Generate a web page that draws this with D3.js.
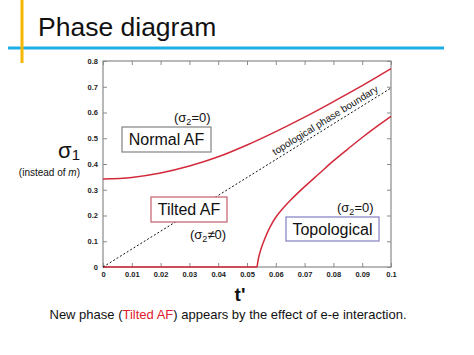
<!DOCTYPE html>
<html><head><meta charset="utf-8">
<script src="https://cdn.jsdelivr.net/npm/d3@7"></script>
<style>html,body{margin:0;padding:0;background:#fff;}svg{display:block;font-family:"Liberation Sans",Arial,Helvetica,sans-serif;}</style>
</head><body>
<script>
// ---- data ----
const xTicks = [0,0.01,0.02,0.03,0.04,0.05,0.06,0.07,0.08,0.09,0.1];
const xTickLabels = ["0","0.01","0.02","0.03","0.04","0.05","0.06","0.07","0.08","0.09","0.1"];
const yTicks = [0,0.1,0.2,0.3,0.4,0.5,0.6,0.7,0.8];
const yTickLabels = ["0","0.1","0.2","0.3","0.4","0.5","0.6","0.7","0.8"];
// Normal AF / Tilted AF boundary
const upperT = [0,0.01,0.02,0.03,0.04,0.05,0.06,0.07,0.08,0.09,0.1];
const upperS = [0.342,0.348,0.365,0.392,0.428,0.474,0.526,0.582,0.642,0.704,0.77];
// Tilted AF / Topological boundary
const lowerT = [0,0.0535,0.054,0.055,0.056,0.058,0.06,0.0625,0.065,0.07,0.075,0.08,0.085,0.09,0.095,0.1];
const lowerS = [0,0,0.035,0.075,0.105,0.155,0.193,0.228,0.258,0.312,0.362,0.412,0.458,0.503,0.545,0.585];
// topological phase boundary (dashed)
const dashT = [0,0.1];
const dashS = [0,0.695];

const W=474,H=355;
const svg=d3.select("body").append("svg").attr("width",W).attr("height",H);

// header decorations
svg.append("line").attr("x1",8).attr("x2",444).attr("y1",48).attr("y2",48).attr("stroke","#1eaee6").attr("stroke-width",3);
svg.append("line").attr("x1",22).attr("x2",22).attr("y1",0).attr("y2",63).attr("stroke","#f4b800").attr("stroke-width",3);
svg.append("text").attr("x",38).attr("y",36).attr("font-size",26.5).attr("fill","#111").text("Phase diagram");

const x=d3.scaleLinear().domain([0,0.1]).range([103,391]);
const y=d3.scaleLinear().domain([0,0.8]).range([267,61]);

const frame="#8a8a8a";
function styleAxis(g){
  g.selectAll(".domain").remove();
  g.selectAll(".tick line").attr("stroke",frame);
  g.selectAll("text").attr("font-size",7.5).attr("font-weight","bold").attr("fill","#222");
}
svg.append("g").attr("transform",`translate(0,${y(0)})`)
  .call(d3.axisBottom(x).tickValues(xTicks).tickFormat((d,i)=>xTickLabels[i]).tickSizeInner(-4).tickSizeOuter(0).tickPadding(5))
  .call(styleAxis);
svg.append("g").attr("transform",`translate(0,${y(0.8)})`)
  .call(d3.axisTop(x).tickValues(xTicks).tickFormat("").tickSizeInner(-4).tickSizeOuter(0))
  .call(styleAxis);
svg.append("g").attr("transform",`translate(${x(0)},0)`)
  .call(d3.axisLeft(y).tickValues(yTicks).tickFormat((d,i)=>yTickLabels[i]).tickSizeInner(-4).tickSizeOuter(0).tickPadding(5))
  .call(styleAxis);
svg.append("g").attr("transform",`translate(${x(0.1)},0)`)
  .call(d3.axisRight(y).tickValues(yTicks).tickFormat("").tickSizeInner(-4).tickSizeOuter(0))
  .call(styleAxis);
svg.append("rect").attr("x",x(0)).attr("y",y(0.8)).attr("width",x(0.1)-x(0)).attr("height",y(0)-y(0.8))
  .attr("fill","none").attr("stroke",frame).attr("stroke-width",1.2);

const red="#d22a3a";
const upperLine=d3.line().x(d=>x(d[0])).y(d=>y(d[1])).curve(d3.curveCatmullRom.alpha(0.5));
svg.append("path").attr("d",upperLine(upperT.map((t,i)=>[t,upperS[i]]))).attr("fill","none").attr("stroke",red).attr("stroke-width",1.5);
svg.append("path").attr("d",d3.line().x(d=>x(d[0])).y(d=>y(d[1])).curve(d3.curveMonotoneY)(lowerT.map((t,i)=>[t,lowerS[i]]).slice(1))).attr("fill","none").attr("stroke",red).attr("stroke-width",1.5);
svg.append("path").attr("d",d3.line().x(d=>x(d[0])).y(d=>y(d[1]))(lowerT.slice(0,2).map((t,i)=>[t,lowerS[i]]))).attr("fill","none").attr("stroke",red).attr("stroke-width",1.5);
svg.append("path").attr("d",d3.line().x(d=>x(d[0])).y(d=>y(d[1]))(dashT.map((t,i)=>[t,dashS[i]]))).attr("fill","none").attr("stroke","#111").attr("stroke-width",1).attr("stroke-dasharray","2,2");

// rotated label along dashed line
const ang=Math.atan2(y(0)-y(dashS[1]),x(0.1)-x(0))*180/Math.PI;
const tm=0.0785, px=x(tm), py=y(tm*dashS[1]/0.1);
const off=4;
const rad=ang*Math.PI/180;
svg.append("text").attr("font-size",10).attr("fill","#111").attr("text-anchor","middle")
  .attr("transform",`translate(${px-off*Math.sin(rad)},${py-off*Math.cos(rad)}) rotate(${-ang})`)
  .text("topological phase boundary");

// phase boxes
function box(x0,y0,w,h,stroke,label){
  svg.append("rect").attr("x",x0).attr("y",y0).attr("width",w).attr("height",h).attr("fill","#fff").attr("stroke",stroke).attr("stroke-width",1.3);
  svg.append("text").attr("x",x0+w/2).attr("y",y0+h/2+5.8).attr("text-anchor","middle").attr("font-size",16).attr("fill","#111").text(label);
}
box(122,127,89,25,"#8c8c8c","Normal AF");
box(151,197,76,25,"#c86a78","Tilted AF");
box(286,217,93,24,"#8c88c8","Topological");

function sigmaLabel(xs,ys,rel){
  const t=svg.append("text").attr("x",xs).attr("y",ys).attr("font-size",13).attr("fill","#111");
  t.append("tspan").text("(σ");
  t.append("tspan").attr("font-size",9).attr("dy",3).text("2");
  t.append("tspan").attr("dy",-3).text(rel+"0)");
}
sigmaLabel(174,122,"=");
sigmaLabel(190,239,"≠");
sigmaLabel(337,212,"=");

// y-axis label
const sl=svg.append("text").attr("x",80).attr("y",158).attr("text-anchor","end").attr("font-size",22).attr("fill","#111");
sl.append("tspan").text("σ");
sl.append("tspan").attr("font-size",15).attr("dy",2).text("1");
const ins=svg.append("text").attr("x",80).attr("y",176).attr("text-anchor","end").attr("font-size",10).attr("fill","#111");
ins.append("tspan").text("(instead of ");
ins.append("tspan").attr("font-style","italic").text("m");
ins.append("tspan").text(")");

// x-axis label
svg.append("text").attr("x",240).attr("y",301).attr("text-anchor","middle").attr("font-size",19).attr("font-weight","bold").attr("fill","#111").text("t'");

// caption
const cap=svg.append("text").attr("x",228).attr("y",319).attr("text-anchor","middle").attr("font-size",13).attr("fill","#111");
cap.append("tspan").text("New phase (");
cap.append("tspan").attr("fill","#e0202c").text("Tilted AF");
cap.append("tspan").text(") appears by the effect of e-e interaction.");
</script>
</body></html>
